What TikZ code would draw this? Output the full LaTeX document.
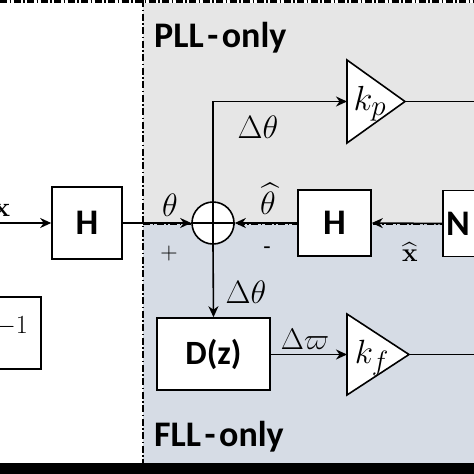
\RequirePackage{fix-cm}
\documentclass[tikz,border=0pt]{standalone}
\usepackage{amsmath}
\usepackage[no-math]{fontspec}
\setmainfont{Carlito}
\usetikzlibrary{arrows.meta}
\definecolor{pllgray}{HTML}{E6E6E6}
\definecolor{fllblue}{HTML}{D6DCE5}
\newcommand{\MyBig}[2][1.3]{\scalebox{#1}{$#2$}}
\tikzset{
  line/.style={line width=1.6pt, draw=black},
  arr/.style={line, -{Stealth[length=11pt,width=10pt,inset=3.5pt]}},
  blk/.style={draw=black, line width=1.6pt, fill=white, inner sep=0pt},
  bigsans/.style={font=\fontsize{36}{36}\selectfont\bfseries},
  ttl/.style={font=\fontsize{36}{36}\selectfont\bfseries, anchor=base west, inner sep=0pt},
  mlab/.style={font=\fontsize{24.88}{25}\selectfont, inner sep=0pt},
  sign/.style={font=\fontsize{24}{24}\selectfont, inner sep=0pt},
  region/.style={draw=black, line width=1.2pt, dash pattern=on 7pt off 2.5pt on 1.5pt off 2.5pt}
}
\begin{document}
\begin{tikzpicture}[x=1pt,y=-1pt]
\useasboundingbox (0,0) rectangle (474,474);
% regions
\fill[pllgray] (143,3) rectangle (474,223);
\fill[fllblue] (143,223) rectangle (474,463);
\fill[black] (0,463) rectangle (474,474);
\draw[region, line width=3pt] (0,1.5) -- (474,1.5);
\draw[region] (143,0) -- (143,463);
\draw[region] (143,224) -- (474,224);
% titles
\node[ttl] (pll) at (154,47) {PLL\kern3.5pt-\kern3.5pt only};
\node[ttl] (fll) at (154,446) {FLL\kern3.5pt-\kern3.5pt only};
% blocks
\node[blk, minimum width=70pt, minimum height=72pt, bigsans] (Hl) at (87,223) {H};
\node[blk, minimum width=60pt, minimum height=72pt] (zinv) at (11,333) {};
\node[mlab, anchor=east] (zt) at (28,326) {\MyBig[1.05]{-1}};
\node[blk, circle, minimum size=42pt] (sum) at (213,223) {};
\node[blk, minimum width=73pt, minimum height=66pt, bigsans] (Hr) at (334.5,223) {H};
\node[blk, minimum width=73pt, minimum height=66pt] (N) at (479.5,223.5) {};
\node[bigsans, anchor=west, inner sep=0pt] (Nt) at (446,224) {N};
\node[blk, minimum width=113pt, minimum height=72pt, font=\fontsize{34}{34}\selectfont\bfseries] (Dz) at (213.5,354) {D(z)};
% triangles
\draw[line, fill=white, line join=miter] (347,60) -- (347,143) -- (405,101.5) -- cycle;
\draw[line, fill=white, line join=miter] (347,314) -- (347,395) -- (409,354.5) -- cycle;
\coordinate (kpin) at (347,101.5);
\coordinate (kpout) at (405,101.5);
\coordinate (kfin) at (347,354.5);
\coordinate (kfout) at (409,354.5);
\coordinate (kpend) at (474,101.5);
\coordinate (kfend) at (474,354.5);
\coordinate (xin) at (0,223);
\node[mlab] (kp) at (370,104) {\MyBig[1.4]{k_p}};
\node[mlab] (kf) at (372,358) {\MyBig[1.35]{k_f}};
% sum cross
\draw[line] (sum.north) -- (sum.south);
\draw[line] (sum.west) -- (sum.east);
% connectors
\draw[arr] (xin) -- (Hl.west);
\draw[arr] (Hl.east) -- (sum.west);
\draw[arr] (N.west) -- (Hr.east);
\draw[arr] (Hr.west) -- (sum.east);
\draw[arr] (sum.north) |- (kpin);
\draw[arr] (sum.south) -- (Dz.north);
\draw[arr] (Dz.east |- kfin) -- (kfin);
\draw[line] (kpout) -- (kpend);
\draw[line] (kfout) -- (kfend);
% labels
\node[mlab] (lx) at (2,210) {\MyBig[1.1]{\mathbf{x}}};
\node[mlab] (lth) at (170,205) {\MyBig{\theta}};
\node[mlab] (lthh) at (268,199) {\MyBig{\widehat{\theta}}};
\node[sign] (lp) at (169,253) {$+$};
\node[sign] (lm) at (267,251) {-};
\node[mlab] (ldt1) at (258,127) {\MyBig{\Delta\theta}};
\node[mlab] (ldt2) at (246,292) {\MyBig{\Delta\theta}};
\node[mlab] (ldw) at (305,339) {\MyBig[1.2]{\Delta\varpi}};
\node[mlab] (lxh) at (410,252) {\MyBig[1.05]{\widehat{\mathbf{x}}}};
\end{tikzpicture}
\end{document}
